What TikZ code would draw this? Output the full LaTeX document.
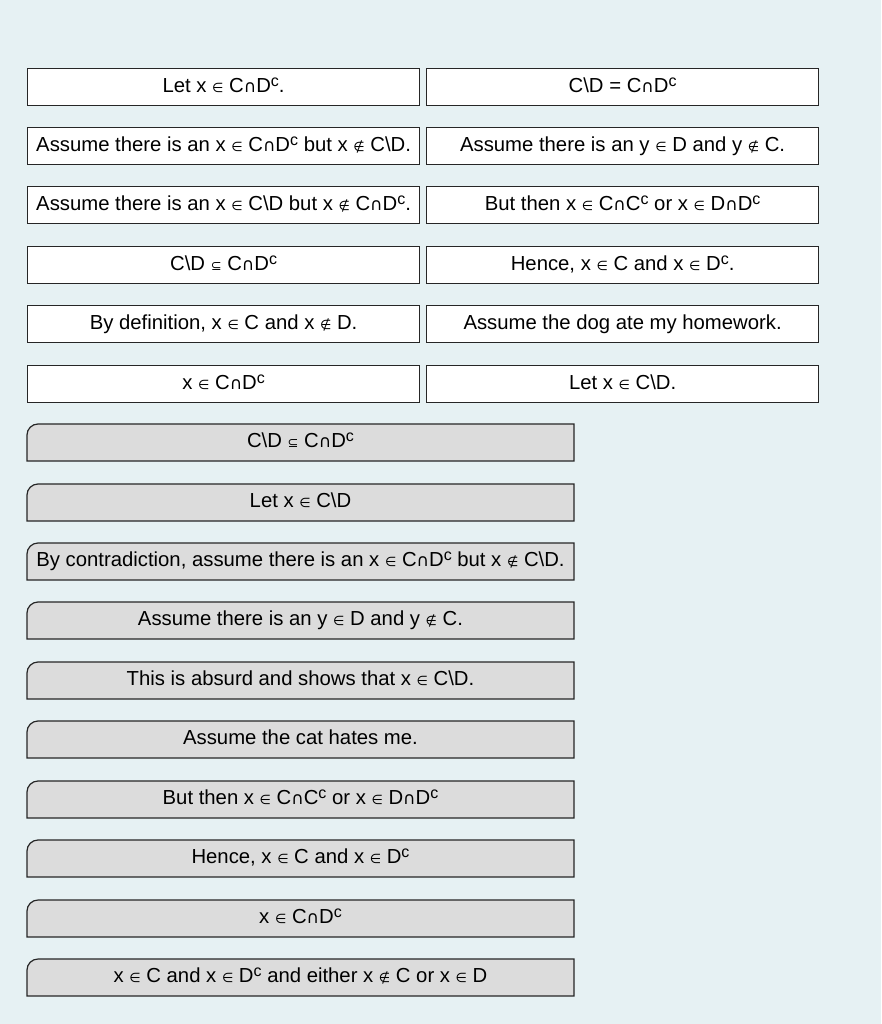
\documentclass[tikz,border=0pt]{standalone}
\usepackage{fontspec}
\setmainfont{Liberation Sans}
\newfontfamily\symf{DejaVu Sans}
\newcommand{\IN}{{\symf\fontsize{13}{13}\selectfont ∈}}
\newcommand{\NIN}{{\symf\fontsize{13}{13}\selectfont ∉}}
\newcommand{\SUB}{{\symf\fontsize{13}{13}\selectfont ⊆}}
\newcommand{\CAP}{{\symf\fontsize{17}{17}\selectfont ∩}}
\newcommand{\SC}{\raisebox{0.3em}{\fontsize{16}{16}\selectfont c}}
\definecolor{bg}{HTML}{E6F1F3}
\definecolor{gb}{HTML}{DCDCDC}
\begin{document}
\begin{tikzpicture}[x=1pt,y=-1pt,font=\fontsize{20.3}{22}\selectfont,
  wbox/.style={draw=black!85,line width=1.2pt,fill=white,minimum width=392pt,minimum height=37pt,inner sep=0pt,text height=14.5pt,text depth=4pt,anchor=north west},
  gshape/.style={draw=black!85,line width=1.2pt,fill=gb},
  gtext/.style={inner sep=0pt,text height=14.5pt,text depth=4pt}]
\fill[bg] (0,0) rectangle (881,1024);
\useasboundingbox (0,0) rectangle (881,1024);
\node[wbox] (l1) at (27,68) {Let x \IN\ C\CAP D\SC.};
\node[wbox] (r1) at (426,68) {C\textbackslash D = C\CAP D\SC};
\node[wbox] (l2) at (27,127) {Assume there is an x \IN\ C\CAP D\SC\ but x \NIN\ C\textbackslash D.};
\node[wbox] (r2) at (426,127) {Assume there is an y \IN\ D and y \NIN\ C.};
\node[wbox] (l3) at (27,186) {Assume there is an x \IN\ C\textbackslash D but x \NIN\ C\CAP D\SC.};
\node[wbox] (r3) at (426,186) {But then x \IN\ C\CAP C\SC\ or x \IN\ D\CAP D\SC};
\node[wbox] (l4) at (27,246) {C\textbackslash D \SUB\ C\CAP D\SC};
\node[wbox] (r4) at (426,246) {Hence, x \IN\ C and x \IN\ D\SC.};
\node[wbox] (l5) at (27,305) {By definition, x \IN\ C and x \NIN\ D.};
\node[wbox] (r5) at (426,305) {Assume the dog ate my homework.};
\node[wbox] (l6) at (27,365) {x \IN\ C\CAP D\SC};
\node[wbox] (r6) at (426,365) {Let x \IN\ C\textbackslash D.};
\foreach \y/\t [count=\i] in {424/{C\textbackslash D \SUB\ C\CAP D\SC},
  484/{Let x \IN\ C\textbackslash D},
  543/{By contradiction, assume there is an x \IN\ C\CAP D\SC\ but x \NIN\ C\textbackslash D.},
  602/{Assume there is an y \IN\ D and y \NIN\ C.},
  662/{This is absurd and shows that x \IN\ C\textbackslash D.},
  721/{Assume the cat hates me.},
  781/{But then x \IN\ C\CAP C\SC\ or x \IN\ D\CAP D\SC},
  840/{Hence, x \IN\ C and x \IN\ D\SC},
  900/{x \IN\ C\CAP D\SC},
  959/{x \IN\ C and x \IN\ D\SC\ and either x \NIN\ C or x \IN\ D}}{
  \draw[gshape] (27,\y+37) [rounded corners=11pt] -- (27,\y) [sharp corners] -- (574,\y) -- (574,\y+37) -- cycle;
  \node[gtext] (g\i) at (300.5,\y+18.5) {\t};
}
\end{tikzpicture}
\end{document}
